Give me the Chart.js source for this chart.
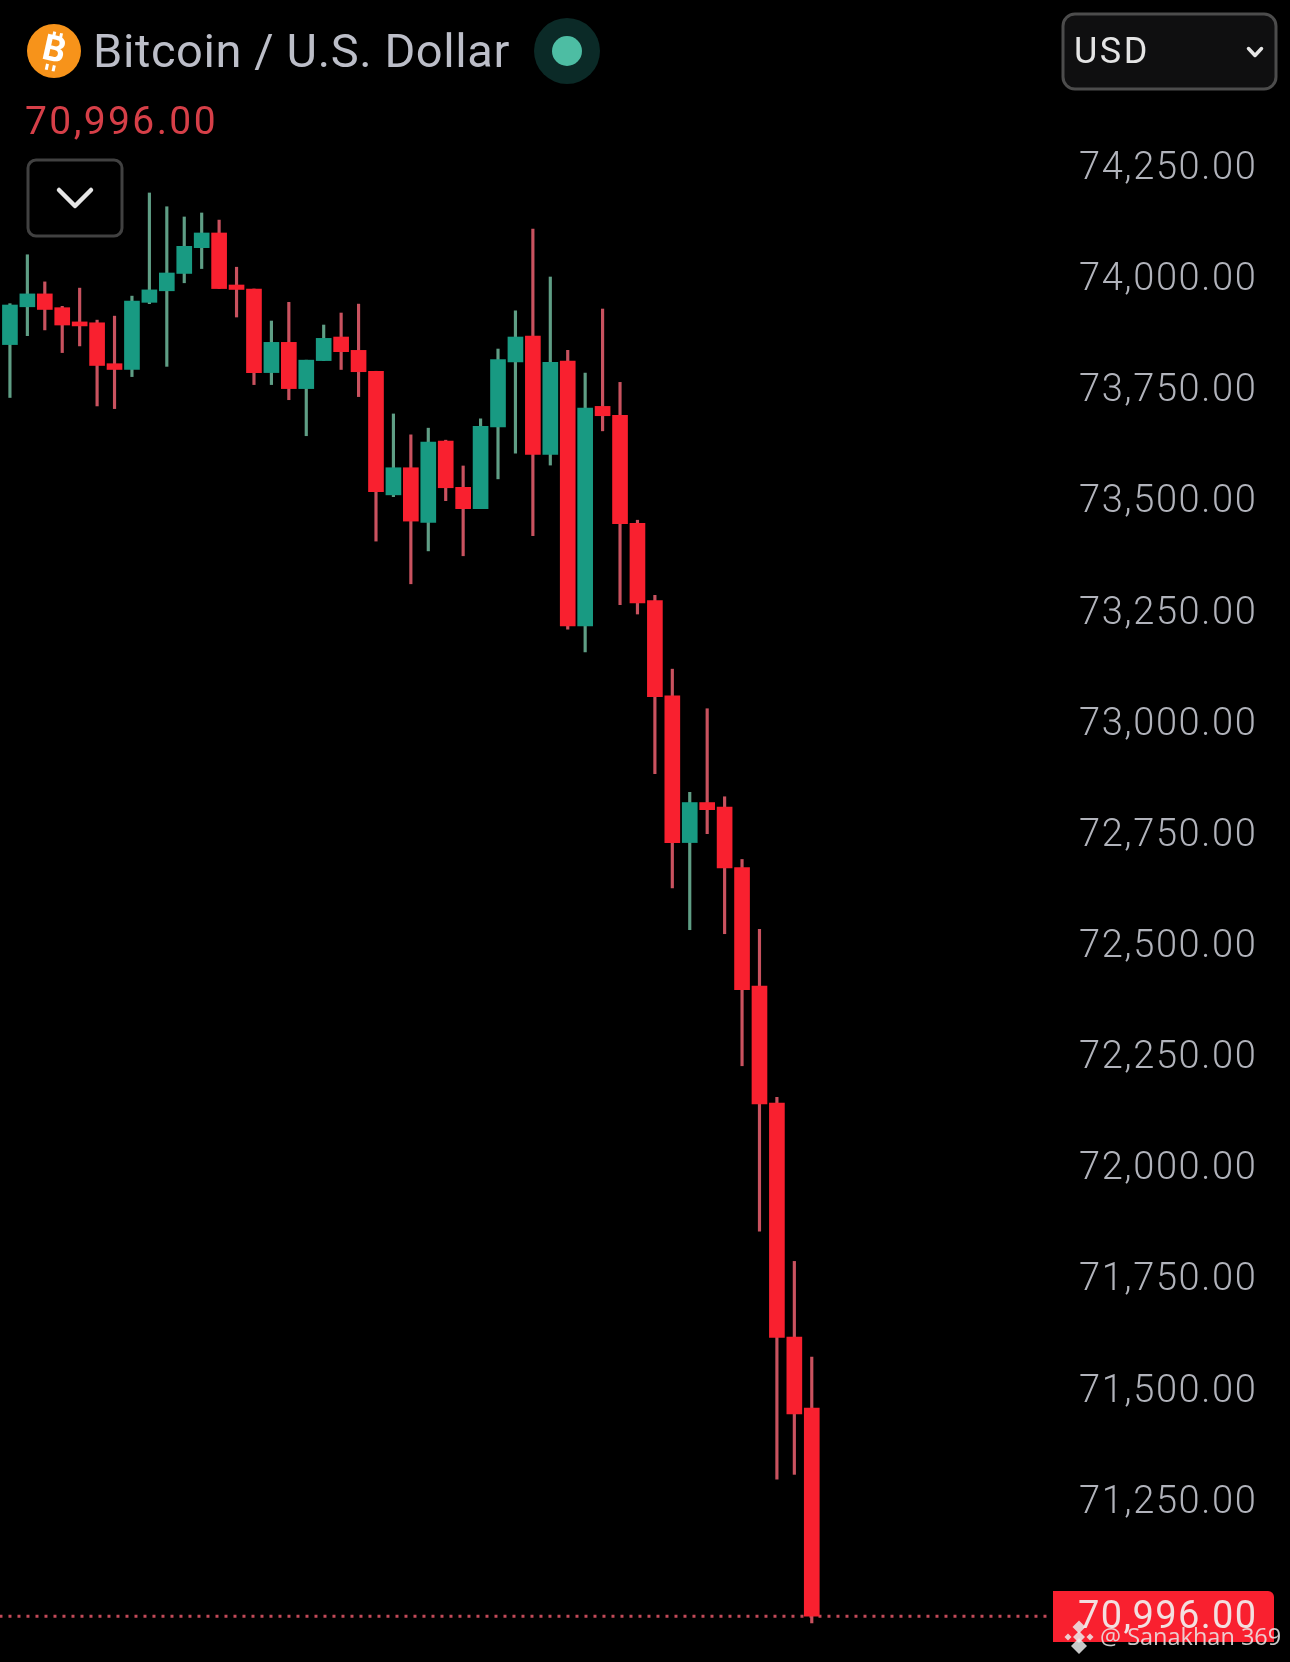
<!DOCTYPE html>
<html>
<head>
<meta charset="utf-8">
<title>Bitcoin / U.S. Dollar</title>
<script src="https://cdn.jsdelivr.net/npm/chart.js@4"></script>
<style>
  html, body { margin: 0; background: #000; }
  canvas { display: block; }
</style>
</head>
<body>
<canvas id="candles" width="1290" height="1662"></canvas>
<script>
// candles, oldest first
var opens = [73856, 73941, 73970, 73939, 73907, 73905, 73813, 73800, 73951, 73977, 74016, 74074, 74107, 73990, 73981, 73793, 73861, 73757, 73820, 73873, 73843, 73796, 73518, 73579, 73456, 73639, 73535, 73487, 73671, 73817, 73875, 73609, 73819, 73223, 73717, 73697, 73454, 73280, 73066, 72736, 72826, 72816, 72680, 72413, 72150, 71624, 71464];
var closes = [73945, 73970, 73935, 73900, 73898, 73809, 73800, 73954, 73979, 74017, 74077, 74107, 73982, 73980, 73793, 73861, 73757, 73821, 73870, 73840, 73795, 73525, 73579, 73459, 73637, 73534, 73487, 73672, 73822, 73873, 73609, 73816, 73223, 73713, 73696, 73453, 73275, 73064, 72736, 72826, 72810, 72679, 72405, 72148, 71623, 71451, 70996];
var highs = [73948, 74058, 73997, 73942, 73983, 73911, 73920, 73965, 74197, 74166, 74143, 74152, 74136, 74030, 73981, 73909, 73951, 73821, 73900, 73927, 73947, 73796, 73700, 73653, 73668, 73641, 73583, 73689, 73846, 73932, 74116, 74008, 73843, 73792, 73936, 73771, 73461, 73292, 73126, 72849, 73037, 72839, 72698, 72541, 72163, 71794, 71579];
var lows = [73737, 73876, 73889, 73838, 73853, 73718, 73712, 73784, 73948, 73807, 73995, 74027, 73982, 73918, 73766, 73766, 73732, 73651, 73820, 73800, 73739, 73414, 73514, 73318, 73392, 73505, 73381, 73487, 73554, 73612, 73426, 73585, 73216, 73165, 73662, 73271, 73250, 72891, 72634, 72540, 72756, 72531, 72234, 71862, 71304, 71315, 70981];
var tickValues = [74250, 74000, 73750, 73500, 73250, 73000, 72750, 72500, 72250, 72000, 71750, 71500, 71250];
var lastPrice = 70996;

var red = "#f9202f", green = "#189a82";
var redWick = "#c9525f", greenWick = "#5f9e85";

function money(v) {
  return v.toLocaleString("en-US", { minimumFractionDigits: 2, maximumFractionDigits: 2 });
}
function isUp(i) {
  return closes[i] >= opens[i];
}

function roundBox(ctx, x, y, w, h, r, fill, stroke) {
  ctx.beginPath();
  ctx.roundRect(x, y, w, h, r);
  if (fill) { ctx.fillStyle = fill; ctx.fill(); }
  if (stroke) { ctx.strokeStyle = stroke; ctx.lineWidth = 3; ctx.stroke(); }
}
function chevron(ctx, x, y, w, h, lw, color) {
  ctx.beginPath();
  ctx.moveTo(x - w, y - h);
  ctx.lineTo(x, y + h);
  ctx.lineTo(x + w, y - h);
  ctx.strokeStyle = color;
  ctx.lineWidth = lw;
  ctx.stroke();
}
function label(ctx, text, x, y, font, color, spacing, align) {
  ctx.font = font;
  ctx.fillStyle = color;
  ctx.letterSpacing = spacing + "px";
  ctx.textAlign = align || "left";
  ctx.textBaseline = "middle";
  ctx.fillText(text, x, y);
}

var chrome = {
  id: "chrome",
  beforeDraw: function (chart) {
    chart.ctx.letterSpacing = "1.6px";
  },
  afterDraw: function (chart) {
    var ctx = chart.ctx;
    ctx.save();
    ctx.lineCap = "round";
    ctx.lineJoin = "round";

    // coin
    ctx.beginPath();
    ctx.arc(54, 51, 27, 0, Math.PI * 2);
    ctx.fillStyle = "#f7931a";
    ctx.fill();
    ctx.save();
    ctx.translate(54, 51);
    ctx.rotate(0.22);
    label(ctx, "B", 0, 1, "bold 36px Roboto", "#fff", 0, "center");
    ctx.fillStyle = "#fff";
    ctx.fillRect(-5, -19, 3, 6);
    ctx.fillRect(2, -19, 3, 6);
    ctx.fillRect(-5, 14, 3, 6);
    ctx.fillRect(2, 14, 3, 6);
    ctx.restore();

    label(ctx, "Bitcoin / U.S. Dollar", 93, 55, "47px Roboto", "#bcbec8", 0.6);

    // market open dot
    ctx.beginPath();
    ctx.arc(567, 51, 33, 0, Math.PI * 2);
    ctx.fillStyle = "#0b2a27";
    ctx.fill();
    ctx.beginPath();
    ctx.arc(567, 51, 15, 0, Math.PI * 2);
    ctx.fillStyle = "#4dbda3";
    ctx.fill();

    label(ctx, money(lastPrice), 25, 124, "39px Roboto", "#d63f48", 2.4);

    roundBox(ctx, 28, 160, 94, 76, 8, null, "#414141");
    chevron(ctx, 75, 198, 16, 8, 4.5, "#e6e6e6");

    roundBox(ctx, 1063, 14, 213, 75, 12, "#0f0f10", "#4c4c4c");
    label(ctx, "USD", 1074, 54, "36px Roboto", "#e4e4e4", 2.5);
    chevron(ctx, 1255, 52, 6.5, 3.5, 3.5, "#e6e6e6");

    // last price tag
    var py = chart.scales.y.getPixelForValue(lastPrice);
    ctx.beginPath();
    ctx.roundRect(1053, 1591, 221, 51, [0, 6, 0, 0]);
    ctx.fillStyle = "#f9202f";
    ctx.fill();
    label(ctx, money(lastPrice), 1078, py + 2, "38px Roboto", "#f3dfe0", 1.4);

    // watermark
    ctx.fillStyle = "rgba(235,235,235,0.85)";
    [[1079, 1637, 6], [1068, 1637, 3.5], [1090, 1637, 3.5], [1079, 1627, 6.5], [1079, 1646, 8]].forEach(function (d) {
      ctx.beginPath();
      ctx.moveTo(d[0], d[1] - d[2]);
      ctx.lineTo(d[0] + d[2], d[1]);
      ctx.lineTo(d[0], d[1] + d[2]);
      ctx.lineTo(d[0] - d[2], d[1]);
      ctx.fill();
    });
    label(ctx, "@ Sanakhan 369", 1100, 1638, "23.5px 'Open Sans'", "rgba(235,235,235,0.85)", 0);
    ctx.restore();
  }
};

var ctx = document.getElementById("candles").getContext("2d");
var candleChart = new Chart(ctx, {
  type: "bar",
  data: {
    datasets: [
      {
        label: "Body",
        data: opens.map(function (o, i) { return { x: i, y: [o, closes[i]] }; }),
        backgroundColor: opens.map(function (o, i) { return isUp(i) ? green : red; }),
        barThickness: 15,
        grouped: false,
        borderWidth: 0,
      },
      {
        label: "Wick",
        data: highs.map(function (h, i) { return { x: i, y: [lows[i], h] }; }),
        backgroundColor: highs.map(function (h, i) { return isUp(i) ? greenWick : redWick; }),
        barThickness: 2.5,
        grouped: false,
        borderWidth: 0,
      },
      {
        type: "line",
        label: "Last price",
        data: [{ x: -0.6, y: lastPrice }, { x: 59.6, y: lastPrice }],
        borderColor: "#c24a58",
        borderWidth: 3,
        borderDash: [3, 6],
        pointRadius: 0,
      },
    ],
  },
  options: {
    responsive: false,
    animation: false,
    layout: { autoPadding: false, padding: 0 },
    plugins: { legend: { display: false }, tooltip: { enabled: false } },
    scales: {
      x: { type: "linear", offset: false, min: -0.57, max: 60.47, display: false },
      y: {
        position: "right",
        min: 70893,
        max: 74631,
        grid: { display: false },
        border: { display: false },
        afterBuildTicks: function (scale) {
          scale.ticks = tickValues.map(function (v) { return { value: v }; });
        },
        afterFit: function (scale) {
          scale.width = 226;
          scale.paddingTop = 0;
          scale.paddingBottom = 0;
        },
        ticks: {
          autoSkip: false,
          padding: 7,
          color: "#b1b3bb",
          font: { family: "Roboto", size: 38, weight: 300 },
          callback: function (v) { return money(v); },
        },
      },
    },
  },
  plugins: [chrome],
});
</script>
</body>
</html>
